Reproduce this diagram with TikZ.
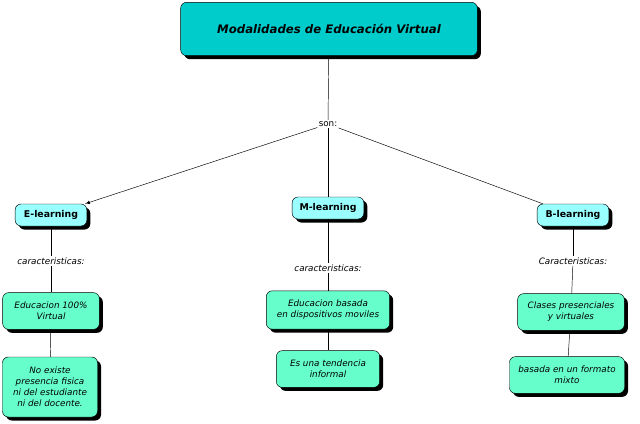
\documentclass[tikz,border=0pt]{standalone}
\usepackage{fontspec}
\setmainfont{DejaVu Sans}
\usetikzlibrary{shadows}
\definecolor{titlecol}{RGB}{0,204,204}
\definecolor{modcol}{RGB}{153,255,255}
\definecolor{itemcol}{RGB}{102,255,204}
\tikzstyle{box}=[draw,rounded corners=5pt,align=center,drop shadow={shadow xshift=3pt,shadow yshift=-3pt,opacity=1,fill=black}]
\tikzstyle{modality}=[box,fill=modcol,font=\bfseries\fontsize{8}{9}\selectfont,minimum width=2.15cm,minimum height=0.66cm]
\tikzstyle{item}=[box,fill=itemcol,font=\itshape\fontsize{7.5}{9.5}\selectfont]
\tikzstyle{linker}=[fill=white,inner sep=1pt,font=\fontsize{7.5}{9}\selectfont]
\begin{document}
\begin{tikzpicture}[x=0.03cm,y=-0.03cm]
\useasboundingbox (0,0) rectangle (640,424);
  \node[box,fill=titlecol,font=\bfseries\itshape\fontsize{10}{12}\selectfont,minimum width=8.9cm,minimum height=1.6cm] (title) at (329,29) {Modalidades de Educación Virtual};
  \node[linker] (son) at (328,124) {son:};
  \node[modality] (e) at (51,215) {E-learning};
  \node[modality] (m) at (328,208) {M-learning};
  \node[modality] (b) at (573,215) {B-learning};
  \node[linker,font=\itshape\fontsize{7.5}{9}\selectfont] (ce) at (51,261) {caracteristicas:};
  \node[linker,font=\itshape\fontsize{7.5}{9}\selectfont] (cm) at (328,268) {caracteristicas:};
  \node[linker,font=\itshape\fontsize{7.5}{9}\selectfont] (cb) at (573,261) {Caracteristicas:};
  \node[item,minimum width=2.9cm,minimum height=1.1cm] (e1) at (51,311) {Educacion 100\%\\Virtual};
  \node[item,minimum width=2.85cm,minimum height=1.8cm] (e2) at (50,387) {No existe\\presencia fisica\\ni del estudiante\\ni del docente.};
  \node[item,minimum width=3.7cm,minimum height=1.15cm] (m1) at (328,310) {Educacion basada\\en dispositivos moviles};
  \node[item,minimum width=3.1cm,minimum height=1.1cm] (m2) at (328,369) {Es una tendencia\\informal};
  \node[item,minimum width=3.2cm,minimum height=1.1cm] (b1) at (571,312) {Clases presenciales\\y virtuales};
  \node[item,minimum width=3.45cm,minimum height=1.1cm] (b2) at (567,375) {basada en un formato\\mixto};
  \draw (title) -- (son);
  \draw[-latex] (son) -- (e);
  \foreach \source/\dest in {son/m,son/b,e/ce,ce/e1,e1/e2,m/cm,cm/m1,m1/m2,b/cb,cb/b1,b1/b2}
      \draw (\source) -- (\dest);
\end{tikzpicture}
\end{document}
